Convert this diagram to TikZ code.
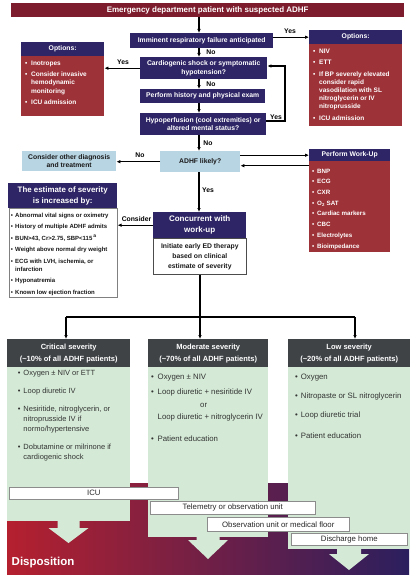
\documentclass[tikz,border=0pt]{standalone}
\usepackage{fontspec}
\setmainfont{Liberation Sans}
\usetikzlibrary{arrows.meta}
\definecolor{ttlred}{HTML}{7D1C2C}
\definecolor{navy}{HTML}{2E2566}
\definecolor{brick}{HTML}{9D3238}
\definecolor{ltblue}{HTML}{B8D5E3}
\definecolor{sevgray}{HTML}{3F4346}
\definecolor{sevgreen}{HTML}{D4EAD6}
\definecolor{gradred}{HTML}{B5202F}
\definecolor{gradmid}{HTML}{552452}
\definecolor{gradnavy}{HTML}{2B1F5E}
\newcommand\rbox[6]{\node[#6,anchor=north west,inner sep=0pt,minimum width={(#4)-(#2)},minimum height={(#5)-(#3)}] (#1) at (#2,#3)}
\newcommand\bul[1][5pt]{\makebox[#1][l]{•}}
\newcommand\lind[1][5pt]{\hspace*{#1}}
\newcommand\fsz[2]{\fontsize{#1}{#2}\selectfont}
\begin{document}
\begin{tikzpicture}[x=1pt,y=-1pt,
  arr/.style={-{Latex[length=4pt,width=3.6pt]},line width=1.2pt},
  navyb/.style={fill=navy,text=white,align=center,font=\bfseries\fsz{6.8}{8.3}},
  redb/.style={fill=brick},
  blueb/.style={fill=ltblue,text=black!90,align=center,font=\bfseries\fsz{6.8}{8.3}},
  lbl/.style={inner sep=0pt,font=\bfseries\fsz{6.8}{8}},
  lst/.style={inner sep=0pt,align=left,anchor=north west,text=white},
  sevh/.style={fill=sevgray,text=white,align=center,font=\bfseries\fsz{7.5}{12}},
  sevb/.style={fill=sevgreen},
  sevt/.style={inner sep=0pt,align=left,anchor=north west,text=black!80,font=\fsz{7.5}{10}},
  dispb/.style={fill=white,draw=black!45,line width=0.6pt,font=\fsz{7.8}{9},text=black!85},
]
\fill[white] (0,0) rectangle (419,578);
\useasboundingbox (0,0) rectangle (419,578);

% ---------- top part ----------
\rbox{ttl}{11}{3}{404}{17}{fill=ttlred,text=white,font=\bfseries\fsz{8}{9}}{Emergency department patient with suspected ADHF};
\rbox{imm}{130}{33}{273}{48}{navyb}{Imminent respiratory failure anticipated};
\rbox{ropth}{309}{30}{402}{44}{navyb}{Options:};
\rbox{ropt}{309}{44}{402}{126}{redb}{};
\rbox{lopth}{21}{42}{104}{56}{navyb}{Options:};
\rbox{lopt}{21}{56}{104}{116}{redb}{};
\rbox{card}{140}{57}{267}{79}{navyb}{Cardiogenic shock or symptomatic\\hypotension?};
\rbox{hist}{140}{89}{265}{103}{navyb}{Perform history and physical exam};
\rbox{hypo}{140}{113}{266}{135}{navyb}{Hypoperfusion (cool extremities) or\\altered mental status?};
\rbox{adhf}{160}{151}{240}{172}{blueb}{ADHF likely?};
\rbox{other}{22}{151}{116}{171}{blueb}{Consider other diagnosis\\and treatment};
\rbox{wuh}{309}{149}{390}{161}{navyb}{Perform Work-Up};
\rbox{wu}{309}{161}{390}{252}{redb}{};
\rbox{conc}{153}{212}{246}{238}{navyb,font=\bfseries\fsz{8}{11}}{Concurrent with\\work-up};
\rbox{init}{153}{238}{246}{274}{fill=white,draw=black!70,line width=0.6pt,align=center,font=\bfseries\fsz{6.8}{10},text=black!90}{Initiate early ED therapy\\based on clinical\\estimate of severity};
\rbox{esth}{8}{183}{117}{208}{navyb,font=\bfseries\fsz{7.9}{11}}{The estimate of severity\\is increased by:};
\rbox{est}{9}{208}{117}{297}{fill=white,draw=black!50,line width=0.6pt}{};

\node[lst,font=\bfseries\fsz{6.5}{8.2}] (roptx) at (313,48.6) {\bul[6pt]NIV\\[3.5pt]\bul[6pt]ETT\\[3pt]\bul[6pt]If BP severely elevated\\\lind[6pt]consider rapid\\\lind[6pt]vasodilation with SL\\\lind[6pt]nitroglycerin or IV\\\lind[6pt]nitroprusside\\[3.5pt]\bul[6pt]ICU admission};
\node[lst,font=\bfseries\fsz{6.5}{8.3}] (loptx) at (25,60.6) {\bul[6pt]Inotropes\\[3pt]\bul[6pt]Consider invasive\\\lind[6pt]hemodynamic\\\lind[6pt]monitoring\\[3pt]\bul[6pt]ICU admission};
\node[lst,font=\bfseries\fsz{6.2}{10.7}] (wux) at (312,168.7) {\bul BNP\\\bul ECG\\\bul CXR\\\bul O\textsubscript{2} SAT\\\bul Cardiac markers\\\bul CBC\\\bul Electrolytes\\\bul Bioimpedance};
\node[lst,text=black!90,font=\bfseries\fsz{6}{7.7}] (estx) at (10.7,212.8) {\bul[4.3pt]Abnormal vital signs or oximetry\\[3.8pt]\bul[4.3pt]History of multiple ADHF admits\\[3.8pt]\bul[4.3pt]BUN>43, Cr>2.75, SBP<115\,\textsuperscript{a}\\[3.8pt]\bul[4.3pt]Weight above normal dry weight\\[3.8pt]\bul[4.3pt]ECG with LVH, ischemia, or\\\lind[4.3pt]infarction\\[3.8pt]\bul[4.3pt]Hyponatremia\\[3.8pt]\bul[4.3pt]Known low ejection fraction};

% labels
\node[lbl] (yes1) at (290,31) {Yes};
\node[lbl] (no1) at (211,52) {No};
\node[lbl] (yes2) at (123,62) {Yes};
\node[lbl] (no2) at (211,84) {No};
\node[lbl] (yes3) at (276,117) {Yes};
\node[lbl] (no3) at (208,143) {No};
\node[lbl] (no4) at (140,155) {No};
\node[lbl] (yes4) at (208,190) {Yes};
\node[lbl] (cons) at (136.5,219) {Consider};

% connectors
\coordinate (mx) at (199,0);
\draw[arr] (ttl.south -| mx) -- (imm.north -| mx);
\coordinate (a1) at ([yshift=3.5pt]imm.east);
\draw[arr] (a1) -- (a1 -| ropth.west);
\draw[arr] (imm.south -| mx) -- (card.north -| mx);
\draw[arr] (card.west) -- (card.west -| lopt.east);
\draw[arr] (card.south -| mx) -- (hist.north -| mx);
\draw[arr] (hist.south -| mx) -- (hypo.north -| mx);
\coordinate (lpB) at (285,121);
\coordinate (lpT) at (285,66);
\draw[arr] (hypo.east |- lpB) -- (lpB) -- (lpT) -- (card.east |- lpT);
\draw[arr] (hypo.south -| mx) -- (adhf.north -| mx);
\draw[arr] (adhf.west) -- (adhf.west -| other.east);
\coordinate (a2) at ([yshift=6.5pt]adhf.east);
\draw[arr] (a2) -- (a2 -| wuh.west);
\coordinate (a3) at ([yshift=-4pt]adhf.east);
\draw[arr] (a3 -| wu.west) -- (a3);
\draw[arr] (adhf.south -| mx) -- (conc.north -| mx);
\draw[arr] (conc.west) -- (conc.west -| est.east);

% ---------- bottom part ----------
\shade[left color=gradred,middle color=gradmid,right color=gradnavy] (7,483) rectangle (409,574);

\rbox{critb}{7}{367}{130}{521}{sevb}{};
\rbox{modb}{148}{367}{268}{537}{sevb}{};
\rbox{lowb}{288}{367}{410}{549}{sevb}{};
\fill[sevgreen] (57.5,520) -- (57.5,528) -- (48.5,528) -- (68.5,543) -- (88.5,528) -- (79.5,528) -- (79.5,520) -- cycle;
\fill[sevgreen] (196.5,536) -- (196.5,540) -- (188,540) -- (208,559) -- (228,540) -- (219.5,540) -- (219.5,536) -- cycle;
\fill[sevgreen] (337,548) -- (337,554) -- (329,554) -- (349,570) -- (369,554) -- (361,554) -- (361,548) -- cycle;

\rbox{crith}{7}{339}{130}{367}{sevh}{Critical severity\\(\textasciitilde 10\% of all ADHF patients)};
\rbox{modh}{148}{339}{268}{367}{sevh}{Moderate severity\\(\textasciitilde 70\% of all ADHF patients)};
\rbox{lowh}{288}{339}{410}{367}{sevh}{Low severity\\(\textasciitilde 20\% of all ADHF patients)};

\node[sevt] (critx) at (17.7,370.2) {\bul[5.6pt]Oxygen ± NIV or ETT\\[8pt]\bul[5.6pt]Loop diuretic IV\\[8pt]\bul[5.6pt]Nesiritide, nitroglycerin, or\\\lind[5.6pt]nitroprusside IV if\\\lind[5.6pt]normo/hypertensive\\[8pt]\bul[5.6pt]Dobutamine or milrinone if\\\lind[5.6pt]cardiogenic shock};
\node[sevt,font=\fsz{7.8}{12.5}] (modx) at (151,374) {\bul[6.5pt]Oxygen ± NIV\\[2.5pt]\bul[6.5pt]Loop diuretic + nesiritide IV\\\lind[49pt]or\\\lind[6.5pt]Loop diuretic + nitroglycerin IV\\[9pt]\bul[6.5pt]Patient education};
\node[sevt,font=\fsz{7.8}{10}] (lowx) at (295,374) {\bul[5.7pt]Oxygen\\[9pt]\bul[5.7pt]Nitropaste or SL nitroglycerin\\[9pt]\bul[5.7pt]Loop diuretic trial\\[11pt]\bul[5.7pt]Patient education};

\coordinate (sp) at (200,317);
\coordinate (spL) at (66,317);
\coordinate (spR) at (355,317);
\draw[line width=2pt] (init.south -| sp) -- (sp);
\draw[line width=1.3pt] (spL) -- (spR);
\draw[arr] (spL) -- (crith.north -| spL);
\draw[arr] (sp) -- (modh.north -| sp);
\draw[arr] (spR) -- (lowh.north -| spR);

\node[inner sep=0pt,anchor=west,text=white,font=\bfseries\fsz{11.5}{13}] (disp) at (11.5,563) {Disposition};
\rbox{icu}{9}{487}{178}{499}{dispb}{ICU};
\rbox{tele}{150}{501}{315}{514}{dispb}{Telemetry or observation unit};
\rbox{obs}{207}{517}{349}{531}{dispb}{Observation unit or medical floor};
\rbox{home}{291}{533}{407}{545}{dispb}{Discharge home};
\end{tikzpicture}
\end{document}
